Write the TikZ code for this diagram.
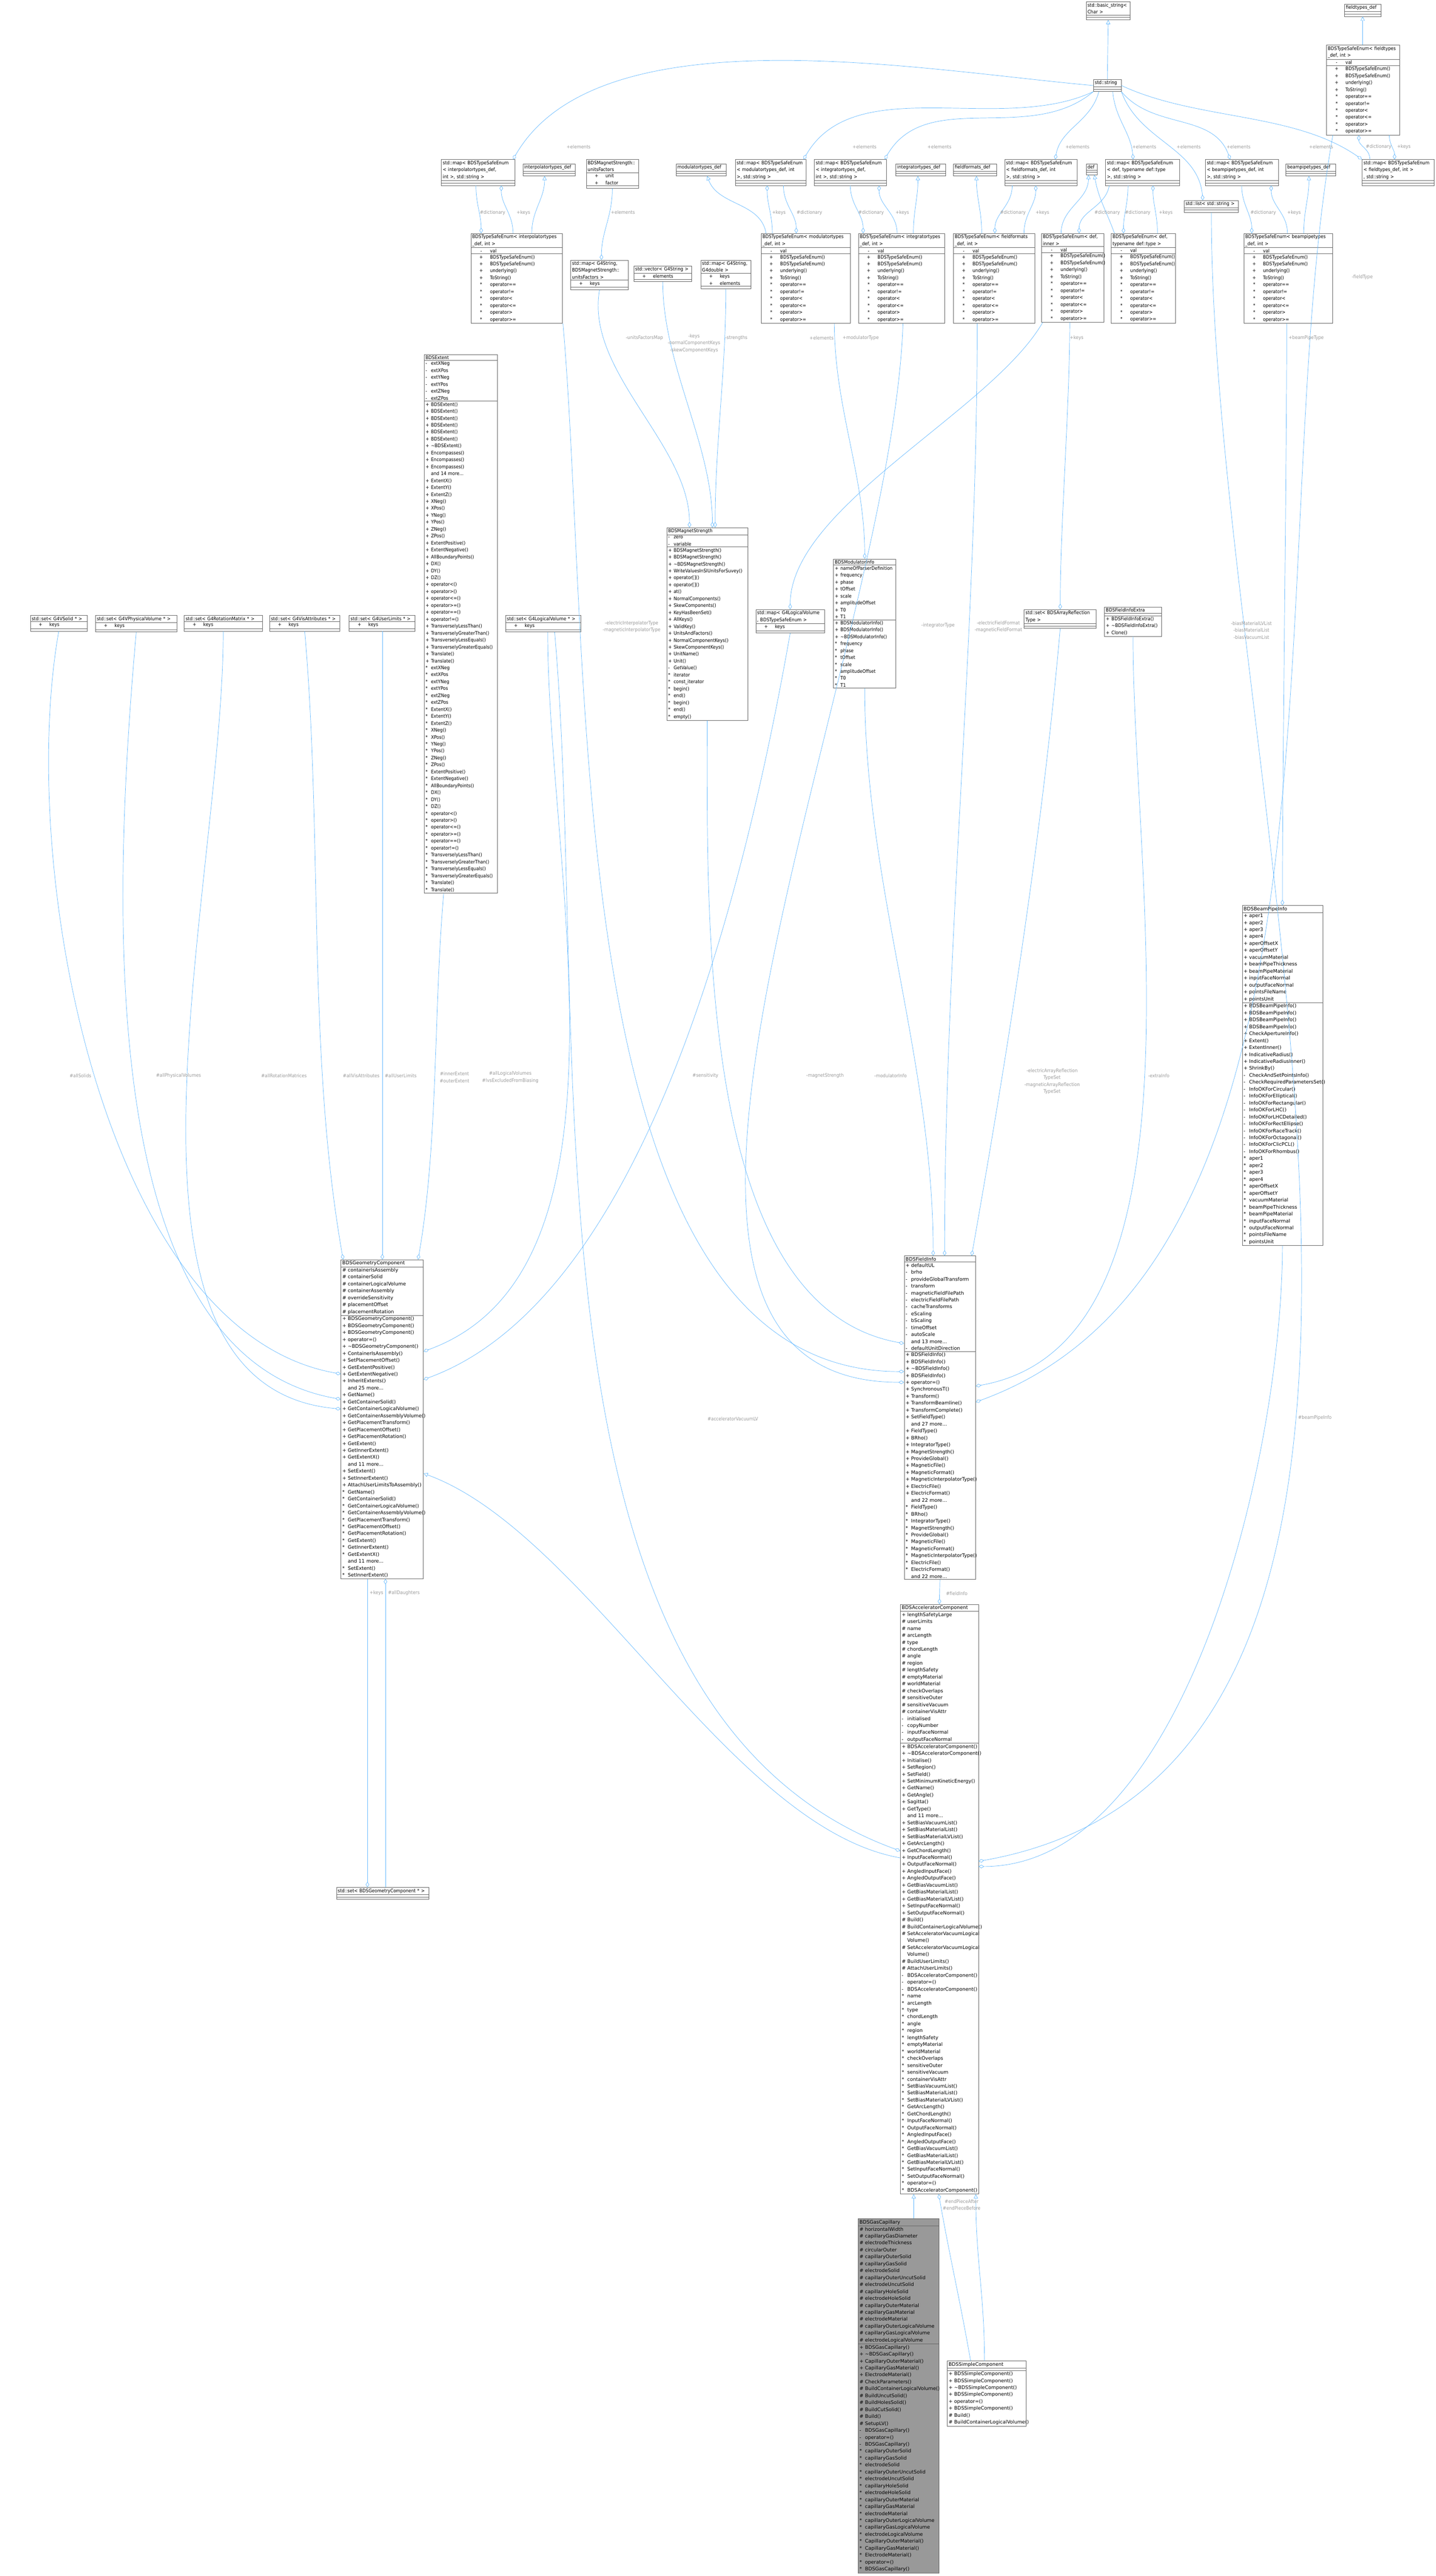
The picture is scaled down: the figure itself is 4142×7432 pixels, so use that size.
\documentclass[tikz,border=0pt]{standalone}
\usepackage{fontspec}
\setmainfont{DejaVu Sans}
\newfontfamily\condfont{DejaVu Sans Condensed}
\usetikzlibrary{shapes.multipart,arrows.meta,calc}
\definecolor{edge}{HTML}{63B8FF}
\definecolor{lblgray}{HTML}{9A9A9A}
\definecolor{boxline}{HTML}{666666}
\definecolor{capfill}{HTML}{999999}
\newcommand\fs{\fontsize{1.75}{2.5}\selectfont}
\newcommand\cfs{\condfont\fontsize{1.75}{2.5}\selectfont}
\newcommand\mb[2]{\makebox[2pt][l]{#1}#2}
\newcommand\mbt[2]{\makebox[6.4pt][c]{#1}#2}
\newcommand\tsebody{\mbt{-}{val}\nodepart{three}\mbt{+}{BDSTypeSafeEnum()}\\\mbt{+}{BDSTypeSafeEnum()}\\\mbt{+}{underlying()}\\\mbt{+}{ToString()}\\\mbt{*}{operator==}\\\mbt{*}{operator!=}\\\mbt{*}{operator<}\\\mbt{*}{operator<=}\\\mbt{*}{operator>}\\\mbt{*}{operator>=}}
\tikzset{
  cls/.style={draw=boxline, line width=0.12pt, fill=white, rectangle split, rectangle split parts=3,
    anchor=north west, inner xsep=0.5pt, inner ysep=0.375pt, font=\fs,
    rectangle split part align={center,left,left},
    rectangle split empty part height=1.25pt},
  narrow/.style={cls, font=\cfs},
  agg/.style={draw=edge, line width=0.13pt, -{Diamond[open,length=2pt,width=1.25pt]}},
  inh/.style={draw=edge, line width=0.13pt, -{Triangle[open,length=1.5pt,width=1.5pt]}},
  lbl/.style={text=lblgray, font=\cfs, align=center, inner sep=0pt}
}
\begin{document}
\begin{tikzpicture}[x=0.125pt,y=-0.125pt]
\useasboundingbox (0,0) rectangle (4142,7432);
% top rows
\node[narrow,text width=14.875pt] (bstr) at (3133,5) {std::basic\_string<\\Char >\nodepart{two}\nodepart{three}};
\node[narrow,text width=9pt] (str) at (3154,229) {std::string\nodepart{two}\nodepart{three}};
\node[narrow,text width=12.25pt] (fdef) at (3878,12) {fieldtypes\_def\nodepart{two}\nodepart{three}};
\node[narrow,text width=25.375pt] (tsefield) at (3826,130) {BDSTypeSafeEnum< fieldtypes\\\_def, int >\nodepart{two}\tsebody};
\node[narrow,text width=25.5pt] (mapinterp) at (1273,460) {std::map< BDSTypeSafeEnum\\< interpolatortypes\_def,\\int >, std::string >\nodepart{two}\nodepart{three}};
\node[narrow,text width=17.875pt] (defint) at (1508,472) {interpolatortypes\_def\nodepart{two}\nodepart{three}};
\node[narrow,text width=17.75pt] (uf) at (1691,460) {BDSMagnetStrength::\\unitsFactors\nodepart{two}\mbt{+}{unit}\\\mbt{+}{factor}\nodepart{three}};
\node[narrow,text width=17.125pt] (defmod) at (1950,472) {modulatortypes\_def\nodepart{two}\nodepart{three}};
\node[narrow,text width=24.5pt] (mapmod) at (2121,460) {std::map< BDSTypeSafeEnum\\< modulatortypes\_def, int\\>, std::string >\nodepart{two}\nodepart{three}};
\node[narrow,text width=25pt] (mapinteg) at (2349,460) {std::map< BDSTypeSafeEnum\\< integratortypes\_def,\\int >, std::string >\nodepart{two}\nodepart{three}};
\node[narrow,text width=16.875pt] (definteg) at (2584,472) {integratortypes\_def\nodepart{two}\nodepart{three}};
\node[narrow,text width=14.5pt] (defform) at (2750,472) {fieldformats\_def\nodepart{two}\nodepart{three}};
\node[narrow,text width=25.125pt] (mapform) at (2898,460) {std::map< BDSTypeSafeEnum\\< fieldformats\_def, int\\>, std::string >\nodepart{two}\nodepart{three}};
\node[narrow,text width=3pt] (def) at (3133,472) {def\nodepart{two}\nodepart{three}};
\node[narrow,text width=25.75pt] (mapdef) at (3189,460) {std::map< BDSTypeSafeEnum\\< def, typename def::type\\>, std::string >\nodepart{two}\nodepart{three}};
\node[narrow,text width=18.5pt] (lststr) at (3416,578) {std::list< std::string >\nodepart{two}\nodepart{three}};
\node[narrow,text width=25.375pt] (mapbeam) at (3477,460) {std::map< BDSTypeSafeEnum\\< beampipetypes\_def, int\\>, std::string >\nodepart{two}\nodepart{three}};
\node[narrow,text width=16.875pt] (defbeam) at (3709,472) {beampipetypes\_def\nodepart{two}\nodepart{three}};
\node[narrow,text width=25pt] (mapfield) at (3929,460) {std::map< BDSTypeSafeEnum\\< fieldtypes\_def, int >\\, std::string >\nodepart{two}\nodepart{three}};
% enum row
\node[narrow,text width=32pt] (tseinterp) at (1358,673) {BDSTypeSafeEnum< interpolatortypes\\\_def, int >\nodepart{two}\tsebody};
\node[narrow,text width=19.75pt] (mapuf) at (1646,750) {std::map< G4String,\\BDSMagnetStrength::\\unitsFactors >\nodepart{two}\mbt{+}{keys}\nodepart{three}};
\node[narrow,text width=19.875pt] (vecstr) at (1828,767) {std::vector< G4String >\nodepart{two}\mbt{+}{elements}\nodepart{three}};
\node[narrow,text width=17.125pt] (mapdbl) at (2021,750) {std::map< G4String,\\G4double >\nodepart{two}\mbt{+}{keys}\\\mbt{+}{elements}\nodepart{three}};
\node[narrow,text width=31.125pt] (tsemod) at (2195,673) {BDSTypeSafeEnum< modulatortypes\\\_def, int >\nodepart{two}\tsebody};
\node[narrow,text width=30pt] (tseinteg) at (2476,673) {BDSTypeSafeEnum< integratortypes\\\_def, int >\nodepart{two}\tsebody};
\node[narrow,text width=28.375pt] (tseform) at (2750,673) {BDSTypeSafeEnum< fieldformats\\\_def, int >\nodepart{two}\tsebody};
\node[narrow,text width=21.5pt] (tseinner) at (3004,673) {BDSTypeSafeEnum< def,\\inner >\nodepart{two}\tsebody};
\node[narrow,text width=22.125pt] (tsetype) at (3205,673) {BDSTypeSafeEnum< def,\\typename def::type >\nodepart{two}\tsebody};
\node[narrow,text width=31pt] (tsebeam) at (3588,673) {BDSTypeSafeEnum< beampipetypes\\\_def, int >\nodepart{two}\tsebody};
% middle
\node[narrow,text width=25.5pt] (extent) at (1223,1022) {BDSExtent\nodepart{two}\mb{-}{extXNeg}\\\mb{-}{extXPos}\\\mb{-}{extYNeg}\\\mb{-}{extYPos}\\\mb{-}{extZNeg}\\\mb{-}{extZPos}\nodepart{three}\mb{+}{BDSExtent()}\\\mb{+}{BDSExtent()}\\\mb{+}{BDSExtent()}\\\mb{+}{BDSExtent()}\\\mb{+}{BDSExtent()}\\\mb{+}{BDSExtent()}\\\mb{+}{\textasciitilde BDSExtent()}\\\mb{+}{Encompasses()}\\\mb{+}{Encompasses()}\\\mb{+}{Encompasses()}\\\mb{}{and 14 more...}\\\mb{+}{ExtentX()}\\\mb{+}{ExtentY()}\\\mb{+}{ExtentZ()}\\\mb{+}{XNeg()}\\\mb{+}{XPos()}\\\mb{+}{YNeg()}\\\mb{+}{YPos()}\\\mb{+}{ZNeg()}\\\mb{+}{ZPos()}\\\mb{+}{ExtentPositive()}\\\mb{+}{ExtentNegative()}\\\mb{+}{AllBoundaryPoints()}\\\mb{+}{DX()}\\\mb{+}{DY()}\\\mb{+}{DZ()}\\\mb{+}{operator<()}\\\mb{+}{operator>()}\\\mb{+}{operator<=()}\\\mb{+}{operator>=()}\\\mb{+}{operator==()}\\\mb{+}{operator!=()}\\\mb{+}{TransverselyLessThan()}\\\mb{+}{TransverselyGreaterThan()}\\\mb{+}{TransverselyLessEquals()}\\\mb{+}{TransverselyGreaterEquals()}\\\mb{+}{Translate()}\\\mb{+}{Translate()}\\\mb{*}{extXNeg}\\\mb{*}{extXPos}\\\mb{*}{extYNeg}\\\mb{*}{extYPos}\\\mb{*}{extZNeg}\\\mb{*}{extZPos}\\\mb{*}{ExtentX()}\\\mb{*}{ExtentY()}\\\mb{*}{ExtentZ()}\\\mb{*}{XNeg()}\\\mb{*}{XPos()}\\\mb{*}{YNeg()}\\\mb{*}{YPos()}\\\mb{*}{ZNeg()}\\\mb{*}{ZPos()}\\\mb{*}{ExtentPositive()}\\\mb{*}{ExtentNegative()}\\\mb{*}{AllBoundaryPoints()}\\\mb{*}{DX()}\\\mb{*}{DY()}\\\mb{*}{DZ()}\\\mb{*}{operator<()}\\\mb{*}{operator>()}\\\mb{*}{operator<=()}\\\mb{*}{operator>=()}\\\mb{*}{operator==()}\\\mb{*}{operator!=()}\\\mb{*}{TransverselyLessThan()}\\\mb{*}{TransverselyGreaterThan()}\\\mb{*}{TransverselyLessEquals()}\\\mb{*}{TransverselyGreaterEquals()}\\\mb{*}{Translate()}\\\mb{*}{Translate()}};
\node[narrow,text width=28.125pt] (magstr) at (1923,1522) {BDSMagnetStrength\nodepart{two}\mb{-}{zero}\\\mb{-}{variable}\nodepart{three}\mb{+}{BDSMagnetStrength()}\\\mb{+}{BDSMagnetStrength()}\\\mb{+}{\textasciitilde BDSMagnetStrength()}\\\mb{+}{WriteValuesInSIUnitsForSuvey()}\\\mb{+}{operator[]()}\\\mb{+}{operator[]()}\\\mb{+}{at()}\\\mb{+}{NormalComponents()}\\\mb{+}{SkewComponents()}\\\mb{+}{KeyHasBeenSet()}\\\mb{+}{AllKeys()}\\\mb{+}{ValidKey()}\\\mb{+}{UnitsAndFactors()}\\\mb{+}{NormalComponentKeys()}\\\mb{+}{SkewComponentKeys()}\\\mb{+}{UnitName()}\\\mb{+}{Unit()}\\\mb{-}{GetValue()}\\\mb{*}{iterator}\\\mb{*}{const\_iterator}\\\mb{*}{begin()}\\\mb{*}{end()}\\\mb{*}{begin()}\\\mb{*}{end()}\\\mb{*}{empty()}};
\node[narrow,text width=23.75pt] (maplv) at (2180,1758) {std::map< G4LogicalVolume\\*, BDSTypeSafeEnum >\nodepart{two}\mbt{+}{keys}\nodepart{three}};
\node[narrow,text width=21.5pt] (modinfo) at (2404,1612) {BDSModulatorInfo\nodepart{two}\mb{+}{nameOfParserDefinition}\\\mb{+}{frequency}\\\mb{+}{phase}\\\mb{+}{tOffset}\\\mb{+}{scale}\\\mb{+}{amplitudeOffset}\\\mb{+}{T0}\\\mb{+}{T1}\nodepart{three}\mb{+}{BDSModulatorInfo()}\\\mb{+}{BDSModulatorInfo()}\\\mb{+}{\textasciitilde BDSModulatorInfo()}\\\mb{*}{frequency}\\\mb{*}{phase}\\\mb{*}{tOffset}\\\mb{*}{scale}\\\mb{*}{amplitudeOffset}\\\mb{*}{T0}\\\mb{*}{T1}};
\node[narrow,text width=19.5pt] (setsolid) at (87,1775) {std::set< G4VSolid * >\nodepart{two}\mbt{+}{keys}\nodepart{three}};
\node[narrow,text width=28.375pt] (setpv) at (275,1775) {std::set< G4VPhysicalVolume * >\nodepart{two}\mbt{+}{keys}\nodepart{three}};
\node[narrow,text width=27.125pt] (setrot) at (531,1775) {std::set< G4RotationMatrix * >\nodepart{two}\mbt{+}{keys}\nodepart{three}};
\node[narrow,text width=24.375pt] (setvis) at (777,1775) {std::set< G4VisAttributes * >\nodepart{two}\mbt{+}{keys}\nodepart{three}};
\node[narrow,text width=22.75pt] (setul) at (1007,1775) {std::set< G4UserLimits * >\nodepart{two}\mbt{+}{keys}\nodepart{three}};
\node[narrow,text width=26.125pt] (setlv) at (1458,1775) {std::set< G4LogicalVolume * >\nodepart{two}\mbt{+}{keys}\nodepart{three}};
\node[narrow,text width=25pt] (setrefl) at (2954,1758) {std::set< BDSArrayReflection\\Type >\nodepart{two}\nodepart{three}};
\node[narrow,text width=19.5pt] (fiextra) at (3186,1751) {BDSFieldInfoExtra\nodepart{two}\nodepart{three}\mb{+}{BDSFieldInfoExtra()}\\\mb{+}{\textasciitilde BDSFieldInfoExtra()}\\\mb{+}{Clone()}};
\node[cls,text width=28pt] (bpinfo) at (3583,2612) {BDSBeamPipeInfo\nodepart{two}\mb{+}{aper1}\\\mb{+}{aper2}\\\mb{+}{aper3}\\\mb{+}{aper4}\\\mb{+}{aperOffsetX}\\\mb{+}{aperOffsetY}\\\mb{+}{vacuumMaterial}\\\mb{+}{beamPipeThickness}\\\mb{+}{beamPipeMaterial}\\\mb{+}{inputFaceNormal}\\\mb{+}{outputFaceNormal}\\\mb{+}{pointsFileName}\\\mb{+}{pointsUnit}\nodepart{three}\mb{+}{BDSBeamPipeInfo()}\\\mb{+}{BDSBeamPipeInfo()}\\\mb{+}{BDSBeamPipeInfo()}\\\mb{+}{BDSBeamPipeInfo()}\\\mb{+}{CheckApertureInfo()}\\\mb{+}{Extent()}\\\mb{+}{ExtentInner()}\\\mb{+}{IndicativeRadius()}\\\mb{+}{IndicativeRadiusInner()}\\\mb{+}{ShrinkBy()}\\\mb{-}{CheckAndSetPointsInfo()}\\\mb{-}{CheckRequiredParametersSet()}\\\mb{-}{InfoOKForCircular()}\\\mb{-}{InfoOKForElliptical()}\\\mb{-}{InfoOKForRectangular()}\\\mb{-}{InfoOKForLHC()}\\\mb{-}{InfoOKForLHCDetailed()}\\\mb{-}{InfoOKForRectEllipse()}\\\mb{-}{InfoOKForRaceTrack()}\\\mb{-}{InfoOKForOctagonal()}\\\mb{-}{InfoOKForClicPCL()}\\\mb{-}{InfoOKForRhombus()}\\\mb{*}{aper1}\\\mb{*}{aper2}\\\mb{*}{aper3}\\\mb{*}{aper4}\\\mb{*}{aperOffsetX}\\\mb{*}{aperOffsetY}\\\mb{*}{vacuumMaterial}\\\mb{*}{beamPipeThickness}\\\mb{*}{beamPipeMaterial}\\\mb{*}{inputFaceNormal}\\\mb{*}{outputFaceNormal}\\\mb{*}{pointsFileName}\\\mb{*}{pointsUnit}};
% lower
\node[cls,text width=28.75pt] (geom) at (983,3634) {BDSGeometryComponent\nodepart{two}\mb{\#}{containerIsAssembly}\\\mb{\#}{containerSolid}\\\mb{\#}{containerLogicalVolume}\\\mb{\#}{containerAssembly}\\\mb{\#}{overrideSensitivity}\\\mb{\#}{placementOffset}\\\mb{\#}{placementRotation}\nodepart{three}\mb{+}{BDSGeometryComponent()}\\\mb{+}{BDSGeometryComponent()}\\\mb{+}{BDSGeometryComponent()}\\\mb{+}{operator=()}\\\mb{+}{\textasciitilde BDSGeometryComponent()}\\\mb{+}{ContainerIsAssembly()}\\\mb{+}{SetPlacementOffset()}\\\mb{+}{GetExtentPositive()}\\\mb{+}{GetExtentNegative()}\\\mb{+}{InheritExtents()}\\\mb{}{and 25 more...}\\\mb{+}{GetName()}\\\mb{+}{GetContainerSolid()}\\\mb{+}{GetContainerLogicalVolume()}\\\mb{+}{GetContainerAssemblyVolume()}\\\mb{+}{GetPlacementTransform()}\\\mb{+}{GetPlacementOffset()}\\\mb{+}{GetPlacementRotation()}\\\mb{+}{GetExtent()}\\\mb{+}{GetInnerExtent()}\\\mb{+}{GetExtentX()}\\\mb{}{and 11 more...}\\\mb{+}{SetExtent()}\\\mb{+}{SetInnerExtent()}\\\mb{+}{AttachUserLimitsToAssembly()}\\\mb{*}{GetName()}\\\mb{*}{GetContainerSolid()}\\\mb{*}{GetContainerLogicalVolume()}\\\mb{*}{GetContainerAssemblyVolume()}\\\mb{*}{GetPlacementTransform()}\\\mb{*}{GetPlacementOffset()}\\\mb{*}{GetPlacementRotation()}\\\mb{*}{GetExtent()}\\\mb{*}{GetInnerExtent()}\\\mb{*}{GetExtentX()}\\\mb{}{and 11 more...}\\\mb{*}{SetExtent()}\\\mb{*}{SetInnerExtent()}};
\node[cls,text width=24.75pt] (finfo) at (2608,3623) {BDSFieldInfo\nodepart{two}\mb{+}{defaultUL}\\\mb{-}{brho}\\\mb{-}{provideGlobalTransform}\\\mb{-}{transform}\\\mb{-}{magneticFieldFilePath}\\\mb{-}{electricFieldFilePath}\\\mb{-}{cacheTransforms}\\\mb{-}{eScaling}\\\mb{-}{bScaling}\\\mb{-}{timeOffset}\\\mb{-}{autoScale}\\\mb{}{and 13 more...}\\\mb{-}{defaultUnitDirection}\nodepart{three}\mb{+}{BDSFieldInfo()}\\\mb{+}{BDSFieldInfo()}\\\mb{+}{\textasciitilde BDSFieldInfo()}\\\mb{+}{BDSFieldInfo()}\\\mb{+}{operator=()}\\\mb{+}{SynchronousT()}\\\mb{+}{Transform()}\\\mb{+}{TransformBeamline()}\\\mb{+}{TransformComplete()}\\\mb{+}{SetFieldType()}\\\mb{}{and 27 more...}\\\mb{+}{FieldType()}\\\mb{+}{BRho()}\\\mb{+}{IntegratorType()}\\\mb{+}{MagnetStrength()}\\\mb{+}{ProvideGlobal()}\\\mb{+}{MagneticFile()}\\\mb{+}{MagneticFormat()}\\\mb{+}{MagneticInterpolatorType()}\\\mb{+}{ElectricFile()}\\\mb{+}{ElectricFormat()}\\\mb{}{and 22 more...}\\\mb{*}{FieldType()}\\\mb{*}{BRho()}\\\mb{*}{IntegratorType()}\\\mb{*}{MagnetStrength()}\\\mb{*}{ProvideGlobal()}\\\mb{*}{MagneticFile()}\\\mb{*}{MagneticFormat()}\\\mb{*}{MagneticInterpolatorType()}\\\mb{*}{ElectricFile()}\\\mb{*}{ElectricFormat()}\\\mb{}{and 22 more...}};
\node[narrow,text width=32.25pt] (setgeom) at (970,5445) {std::set< BDSGeometryComponent * >\nodepart{two}\nodepart{three}};
\node[cls,text width=27.125pt] (accel) at (2597,4628) {BDSAcceleratorComponent\nodepart{two}\mb{+}{lengthSafetyLarge}\\\mb{\#}{userLimits}\\\mb{\#}{name}\\\mb{\#}{arcLength}\\\mb{\#}{type}\\\mb{\#}{chordLength}\\\mb{\#}{angle}\\\mb{\#}{region}\\\mb{\#}{lengthSafety}\\\mb{\#}{emptyMaterial}\\\mb{\#}{worldMaterial}\\\mb{\#}{checkOverlaps}\\\mb{\#}{sensitiveOuter}\\\mb{\#}{sensitiveVacuum}\\\mb{\#}{containerVisAttr}\\\mb{-}{initialised}\\\mb{-}{copyNumber}\\\mb{-}{inputFaceNormal}\\\mb{-}{outputFaceNormal}\nodepart{three}\mb{+}{BDSAcceleratorComponent()}\\\mb{+}{\textasciitilde BDSAcceleratorComponent()}\\\mb{+}{Initialise()}\\\mb{+}{SetRegion()}\\\mb{+}{SetField()}\\\mb{+}{SetMinimumKineticEnergy()}\\\mb{+}{GetName()}\\\mb{+}{GetAngle()}\\\mb{+}{Sagitta()}\\\mb{+}{GetType()}\\\mb{}{and 11 more...}\\\mb{+}{SetBiasVacuumList()}\\\mb{+}{SetBiasMaterialList()}\\\mb{+}{SetBiasMaterialLVList()}\\\mb{+}{GetArcLength()}\\\mb{+}{GetChordLength()}\\\mb{+}{InputFaceNormal()}\\\mb{+}{OutputFaceNormal()}\\\mb{+}{AngledInputFace()}\\\mb{+}{AngledOutputFace()}\\\mb{+}{GetBiasVacuumList()}\\\mb{+}{GetBiasMaterialList()}\\\mb{+}{GetBiasMaterialLVList()}\\\mb{+}{SetInputFaceNormal()}\\\mb{+}{SetOutputFaceNormal()}\\\mb{\#}{Build()}\\\mb{\#}{BuildContainerLogicalVolume()}\\\mb{\#}{SetAcceleratorVacuumLogical}\\\mb{}{Volume()}\\\mb{\#}{SetAcceleratorVacuumLogical}\\\mb{}{Volume()}\\\mb{\#}{BuildUserLimits()}\\\mb{\#}{AttachUserLimits()}\\\mb{-}{BDSAcceleratorComponent()}\\\mb{-}{operator=()}\\\mb{-}{BDSAcceleratorComponent()}\\\mb{*}{name}\\\mb{*}{arcLength}\\\mb{*}{type}\\\mb{*}{chordLength}\\\mb{*}{angle}\\\mb{*}{region}\\\mb{*}{lengthSafety}\\\mb{*}{emptyMaterial}\\\mb{*}{worldMaterial}\\\mb{*}{checkOverlaps}\\\mb{*}{sensitiveOuter}\\\mb{*}{sensitiveVacuum}\\\mb{*}{containerVisAttr}\\\mb{*}{SetBiasVacuumList()}\\\mb{*}{SetBiasMaterialList()}\\\mb{*}{SetBiasMaterialLVList()}\\\mb{*}{GetArcLength()}\\\mb{*}{GetChordLength()}\\\mb{*}{InputFaceNormal()}\\\mb{*}{OutputFaceNormal()}\\\mb{*}{AngledInputFace()}\\\mb{*}{AngledOutputFace()}\\\mb{*}{GetBiasVacuumList()}\\\mb{*}{GetBiasMaterialList()}\\\mb{*}{GetBiasMaterialLVList()}\\\mb{*}{SetInputFaceNormal()}\\\mb{*}{SetOutputFaceNormal()}\\\mb{*}{operator=()}\\\mb{*}{BDSAcceleratorComponent()}};
\node[cls,text width=28.125pt,fill=capfill] (gascap) at (2475,6401) {BDSGasCapillary\nodepart{two}\mb{\#}{horizontalWidth}\\\mb{\#}{capillaryGasDiameter}\\\mb{\#}{electrodeThickness}\\\mb{\#}{circularOuter}\\\mb{\#}{capillaryOuterSolid}\\\mb{\#}{capillaryGasSolid}\\\mb{\#}{electrodeSolid}\\\mb{\#}{capillaryOuterUncutSolid}\\\mb{\#}{electrodeUncutSolid}\\\mb{\#}{capillaryHoleSolid}\\\mb{\#}{electrodeHoleSolid}\\\mb{\#}{capillaryOuterMaterial}\\\mb{\#}{capillaryGasMaterial}\\\mb{\#}{electrodeMaterial}\\\mb{\#}{capillaryOuterLogicalVolume}\\\mb{\#}{capillaryGasLogicalVolume}\\\mb{\#}{electrodeLogicalVolume}\nodepart{three}\mb{+}{BDSGasCapillary()}\\\mb{+}{\textasciitilde BDSGasCapillary()}\\\mb{+}{CapillaryOuterMaterial()}\\\mb{+}{CapillaryGasMaterial()}\\\mb{+}{ElectrodeMaterial()}\\\mb{\#}{CheckParameters()}\\\mb{\#}{BuildContainerLogicalVolume()}\\\mb{\#}{BuildUncutSolid()}\\\mb{\#}{BuildHolesSolid()}\\\mb{\#}{BuildCutSolid()}\\\mb{\#}{Build()}\\\mb{\#}{SetupLV()}\\\mb{-}{BDSGasCapillary()}\\\mb{-}{operator=()}\\\mb{-}{BDSGasCapillary()}\\\mb{*}{capillaryOuterSolid}\\\mb{*}{capillaryGasSolid}\\\mb{*}{electrodeSolid}\\\mb{*}{capillaryOuterUncutSolid}\\\mb{*}{electrodeUncutSolid}\\\mb{*}{capillaryHoleSolid}\\\mb{*}{electrodeHoleSolid}\\\mb{*}{capillaryOuterMaterial}\\\mb{*}{capillaryGasMaterial}\\\mb{*}{electrodeMaterial}\\\mb{*}{capillaryOuterLogicalVolume}\\\mb{*}{capillaryGasLogicalVolume}\\\mb{*}{electrodeLogicalVolume}\\\mb{*}{CapillaryOuterMaterial()}\\\mb{*}{CapillaryGasMaterial()}\\\mb{*}{ElectrodeMaterial()}\\\mb{*}{operator=()}\\\mb{*}{BDSGasCapillary()}};
\node[cls,text width=27.375pt] (simple) at (2732,6811) {BDSSimpleComponent\nodepart{two}\nodepart{three}\mb{+}{BDSSimpleComponent()}\\\mb{+}{BDSSimpleComponent()}\\\mb{+}{\textasciitilde BDSSimpleComponent()}\\\mb{+}{BDSSimpleComponent()}\\\mb{+}{operator=()}\\\mb{+}{BDSSimpleComponent()}\\\mb{\#}{Build()}\\\mb{\#}{BuildContainerLogicalVolume()}};
% connectors, top
\draw[inh] (str.north) -- (bstr.south);
\draw[inh] (3931,0 |- tsefield.north) -- (3931,0 |- fdef.south);
\draw[agg] (str.west) to[out=175,in=60,distance=62pt] (1480,0 |- mapinterp.north);
\draw[agg] (str.south west) to[out=205,in=60,distance=37pt] (2318,0 |- mapmod.north);
\draw[agg] (str.south west) to[out=220,in=60,distance=30pt] (2552,0 |- mapinteg.north);
\draw[agg] (3170,0 |- str.south) to[out=-105,in=80] (3044,0 |- mapform.north);
\draw[agg] (3210,0 |- str.south) to[out=-85,in=95] (3269,0 |- mapdef.north);
\draw[agg] (str.south east) to[out=-70,in=95] (3470,0 |- lststr.north);
\draw[agg] (str.south east) to[out=-50,in=110] (3549,0 |- mapbeam.north);
\draw[agg] (str.east) to[out=-25,in=145,distance=30pt] (mapfield.north west);
% enums and their maps
\draw[agg] (1373,0 |- mapinterp.south) to[out=-90,in=90] (1388,0 |- tseinterp.north);
\draw[agg] (1480,0 |- tseinterp.north) to[out=90,in=-90] (1446,0 |- mapinterp.south);
\draw[inh] (1534,0 |- tseinterp.north) to[out=90,in=-90] (1571,0 |- defint.south);
\draw[agg] (uf.south) to[out=-90,in=90] (1735,0 |- mapuf.north);
\draw[inh] (2210,0 |- tsemod.north) to[out=100,in=-70] (2040,0 |- defmod.south);
\draw[agg] (2228,0 |- tsemod.north) to[out=90,in=-90] (2213,0 |- mapmod.south);
\draw[agg] (2260,0 |- mapmod.south) to[out=-90,in=90] (2297,0 |- tsemod.north);
\draw[agg] (2453,0 |- mapinteg.south) to[out=-90,in=90] (2490,0 |- tseinteg.north);
\draw[agg] (2588,0 |- tseinteg.north) to[out=90,in=-90] (2536,0 |- mapinteg.south);
\draw[inh] (2635,0 |- tseinteg.north) to[out=90,in=-90] (2648,0 |- definteg.south);
\draw[inh] (2832,0 |- tseform.north) to[out=90,in=-90] (2817,0 |- defform.south);
\draw[agg] (2920,0 |- mapform.south) to[out=-90,in=90] (2870,0 |- tseform.north);
\draw[agg] (2954,0 |- tseform.north) to[out=90,in=-90] (2988,0 |- mapform.south);
\draw[inh] (3061,0 |- tseinner.north) to[out=90,in=-90] (3140,0 |- def.south);
\draw[inh] (3215,0 |- tsetype.north) to[out=110,in=-80] (3157,0 |- def.south);
\draw[agg] (3200,0 |- mapdef.south) to[out=-100,in=90] (3113,0 |- tseinner.north);
\draw[agg] (3254,0 |- mapdef.south) to[out=-90,in=90] (3241,0 |- tsetype.north);
\draw[agg] (3339,0 |- tsetype.north) to[out=90,in=-90] (3326,0 |- mapdef.south);
\draw[agg] (3582,0 |- mapbeam.south) to[out=-90,in=90] (3611,0 |- tsebeam.north);
\draw[agg] (3714,0 |- tsebeam.north) to[out=90,in=-90] (3667,0 |- mapbeam.south);
\draw[inh] (3761,0 |- tsebeam.north) to[out=90,in=-90] (3776,0 |- defbeam.south);
\draw[agg] (3952,0 |- mapfield.north) to[out=90,in=-90] (3920,0 |- tsefield.south);
\draw[agg] (4008,0 |- tsefield.south) to[out=-90,in=90] (4023,0 |- mapfield.north);
% magnet strength, modulator, maps and sets
\draw[agg] (mapuf.south) to[out=-100,in=90,distance=30pt] (1989,0 |- magstr.north);
\draw[agg] (vecstr.south) to[out=-90,in=90,distance=30pt] (2055,0 |- magstr.north);
\draw[agg] (mapdbl.south) to[out=-90,in=90,distance=30pt] (2063,0 |- magstr.north);
\draw[agg] (2407,0 |- tsemod.south) to[out=-90,in=90,distance=30pt] (modinfo.north);
\draw[agg] (3008,0 |- tseinner.south) to[out=-120,in=90,distance=37pt] (maplv.north);
\draw[agg] (3086,0 |- tseinner.south) to[out=-90,in=90,distance=30pt] (setrefl.north);
\draw[agg] (3712,0 |- tsebeam.south) to[out=-90,in=90,distance=50pt] (bpinfo.north);
% field info
\draw[agg] (1624,0 |- tseinterp.south) to[out=-85,in=180,distance=125pt] ($(finfo.north west)+(0,334)$);
\draw[agg] (2605,0 |- tseinteg.south) to[out=-92,in=180,distance=125pt] ($(finfo.north west)+(0,365)$);
\draw[agg] (magstr.south) to[out=-90,in=170,distance=75pt] ($(finfo.north west)+(0,253)$);
\draw[agg] (modinfo.south) to[out=-90,in=90,distance=70pt] (2692,0 |- finfo.north);
\draw[agg] (2819,0 |- tseform.south) to[out=-90,in=90,distance=112pt] (2725,0 |- finfo.north);
\draw[agg] (setrefl.south) to[out=-95,in=80,distance=75pt] (2803,0 |- finfo.north);
\draw[agg] (fiextra.south) to[out=-90,in=10,distance=87pt] ($(finfo.north east)+(0,376)$);
\draw[agg] (3845,0 |- tsefield.south) to[out=-100,in=20,distance=150pt] ($(finfo.north east)+(0,422)$);
% accelerator component
\draw[agg] (lststr.south) to[out=-90,in=10,distance=200pt] ($(accel.north east)+(0,742)$);
\draw[agg] (bpinfo.south) to[out=-90,in=0,distance=75pt] ($(accel.north east)+(0,757)$);
\draw[agg] (finfo.south) -- (accel.north);
\draw[agg] (1600,0 |- setlv.south) to[out=-85,in=160,distance=150pt] ($(accel.north west)+(0,712)$);
% geometry component
\draw[agg] (setsolid.south) to[out=-100,in=170,distance=87pt] ($(geom.north west)+(0,330)$);
\draw[agg] (setpv.south) to[out=-95,in=170,distance=92pt] ($(geom.north west)+(0,403)$);
\draw[agg] (setrot.south) to[out=-90,in=175,distance=92pt] ($(geom.north west)+(0,431)$);
\draw[agg] (setvis.south) to[out=-85,in=100,distance=75pt] (990,0 |- geom.north);
\draw[agg] (1103,0 |- setul.south) -- (1103,0 |- geom.north);
\draw[agg] (1280,0 |- extent.south) to[out=-95,in=80,distance=42pt] (1206,0 |- geom.north);
\draw[agg] (1580,0 |- setlv.south) to[out=-90,in=20,distance=85pt] ($(geom.north east)+(0,265)$);
\draw[agg] (maplv.south) to[out=-100,in=20,distance=87pt] ($(geom.north east)+(0,346)$);
\draw[inh] ($(accel.north west)+(0,732)$) to[out=170,in=-20,distance=62pt] ($(geom.north east)+(0,617)$);
\draw[agg] (1060,0 |- geom.south) -- (1060,0 |- setgeom.north);
\draw[agg] (1112,0 |- setgeom.north) -- (1112,0 |- geom.south);
\draw[inh] (2636,0 |- gascap.north) -- (2636,0 |- accel.south);
\draw[agg] (2800,0 |- simple.north) to[out=100,in=-80] (2708,0 |- accel.south);
\draw[inh] (2840,0 |- simple.north) to[out=90,in=-90] (2815,0 |- accel.south);
% connector labels
\node[lbl] (l1) at (1669,424) {+elements};
\node[lbl] (l2) at (2494,424) {+elements};
\node[lbl] (l3) at (2710,424) {+elements};
\node[lbl] (l4) at (3108,424) {+elements};
\node[lbl] (l5) at (3301,424) {+elements};
\node[lbl] (l6) at (3429,424) {+elements};
\node[lbl] (l7) at (3573,424) {+elements};
\node[lbl] (l8) at (3811,424) {+elements};
\node[lbl] (l9) at (3977,424) {\#dictionary};
\node[lbl] (l10) at (4050,424) {+keys};
\node[lbl] (l11) at (1421,613) {\#dictionary};
\node[lbl] (l12) at (1510,613) {+keys};
\node[lbl] (l13) at (1797,613) {+elements};
\node[lbl] (l14) at (2247,613) {+keys};
\node[lbl] (l15) at (2335,613) {\#dictionary};
\node[lbl] (l16) at (2513,613) {\#dictionary};
\node[lbl] (l17) at (2603,613) {+keys};
\node[lbl] (l18) at (2922,613) {\#dictionary};
\node[lbl] (l19) at (3007,613) {+keys};
\node[lbl] (l20) at (3194,613) {\#dictionary};
\node[lbl] (l21) at (3282,613) {\#dictionary};
\node[lbl] (l22) at (3363,613) {+keys};
\node[lbl] (l23) at (3644,613) {\#dictionary};
\node[lbl] (l24) at (3733,613) {+keys};
\node[lbl] (l25) at (3930,800) {-fieldType};
\node[lbl] (l26) at (1859,975) {-unitsFactorsMap};
\node[lbl] (l27) at (2002,990) {-keys\\-normalComponentKeys\\-skewComponentKeys};
\node[lbl] (l28) at (2124,975) {-strengths};
\node[lbl] (l29) at (2370,975) {+elements};
\node[lbl] (l30) at (2483,975) {+modulatorType};
\node[lbl] (l31) at (3106,975) {+keys};
\node[lbl] (l32) at (3768,975) {+beamPipeType};
\node[lbl] (l33) at (1822,1808) {-electricInterpolatorType\\-magneticInterpolatorType};
\node[lbl] (l34) at (2706,1805) {-integratorType};
\node[lbl] (l35) at (2880,1808) {-electricFieldFormat\\-magneticFieldFormat};
\node[lbl] (l36) at (3610,1818) {-biasMaterialLVList\\-biasMaterialList\\-biasVacuumList};
\node[lbl] (l37) at (2380,3103) {-magnetStrength};
\node[lbl] (l38) at (2569,3103) {-modulatorInfo};
\node[lbl] (l39) at (3035,3120) {-electricArrayReflection\\TypeSet\\-magneticArrayReflection\\TypeSet};
\node[lbl] (l40) at (3343,3103) {-extraInfo};
\node[lbl] (l41) at (232,3103) {\#allSolids};
\node[lbl] (l42) at (515,3103) {\#allPhysicalVolumes};
\node[lbl] (l43) at (819,3103) {\#allRotationMatrices};
\node[lbl] (l44) at (1042,3103) {\#allVisAttributes};
\node[lbl] (l45) at (1156,3103) {\#allUserLimits};
\node[lbl] (l46) at (1311,3108) {\#innerExtent\\\#outerExtent};
\node[lbl] (l47) at (1472,3108) {\#allLogicalVolumes\\\#lvsExcludedFromBiasing};
\node[lbl] (l48) at (2035,3103) {\#sensitivity};
\node[lbl] (l49) at (2114,4093) {\#acceleratorVacuumLV};
\node[lbl] (l50) at (3793,4091) {\#beamPipeInfo};
\node[lbl] (l51) at (2760,4598) {\#fieldInfo};
\node[lbl] (l52) at (1086,4596) {+keys};
\node[lbl] (l53) at (1165,4596) {\#allDaughters};
\node[lbl] (l54) at (2774,6361) {\#endPieceAfter\\\#endPieceBefore};
\end{tikzpicture}
\end{document}
